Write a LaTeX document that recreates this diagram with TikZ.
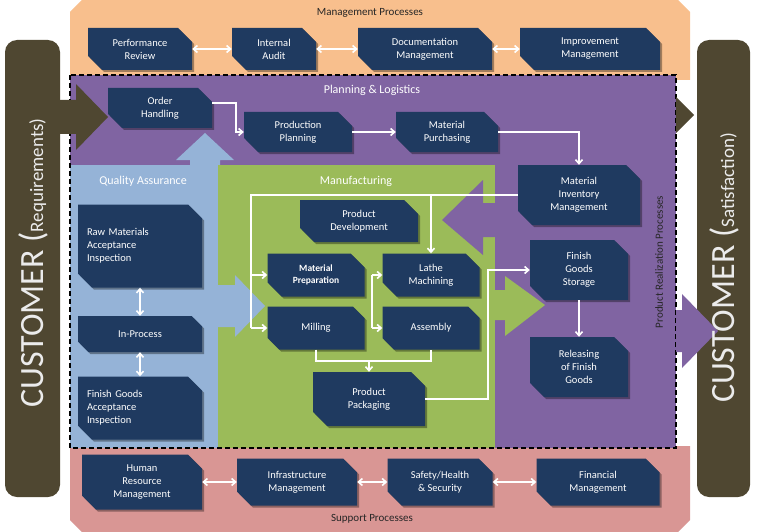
\documentclass[tikz,border=0pt]{standalone}
\usepackage{fontspec}
\setmainfont{Carlito}
\usetikzlibrary{shapes.misc,arrows.meta,shadows}
\definecolor{navy}{HTML}{1F3A60}
\definecolor{mgmt}{HTML}{F8BF8D}
\definecolor{supp}{HTML}{D99694}
\definecolor{purp}{HTML}{8064A2}
\definecolor{qa}{HTML}{95B3D7}
\definecolor{manu}{HTML}{9BBB59}
\definecolor{cust}{HTML}{4F4731}
\begin{document}
\begin{tikzpicture}[x=1pt,y=-1pt,
  box/.style={chamfered rectangle, chamfered rectangle corners={north east,south west},
    chamfered rectangle xsep=7pt, chamfered rectangle ysep=7pt,
    fill=navy, text=white, inner sep=0pt, align=center,
    font=\fontsize{10.5}{13}\selectfont,
    drop shadow={shadow xshift=2pt,shadow yshift=-2pt,fill=black,opacity=0.35}},
  wa/.style={white, line width=1.6pt, -{Straight Barb[length=4pt,width=7pt]}},
  dw/.style={white, line width=1.6pt, {Straight Barb[length=4pt,width=7pt]}-{Straight Barb[length=4pt,width=7pt]}},
  wl/.style={white, line width=1.6pt},
  ttl/.style={font=\fontsize{11}{13}\selectfont},
  cstxt/.style={text=white!92!black, rotate=90, inner sep=0pt}]
\useasboundingbox (0,0) rectangle (768,532);
% panels
\fill[mgmt] (70,12) -- (82,0) -- (678,0) -- (690,12) -- (690,80) -- (70,80) -- cycle;
\fill[supp] (70,446) -- (690,446) -- (690,520) -- (678,532) -- (82,532) -- (70,520) -- cycle;
\fill[purp] (70,75) rectangle (676,448);
\fill[qa] (70,165) rectangle (218,448);
\fill[qa] (190,165) -- (190,160) -- (176,160) -- (205,133) -- (234,160) -- (220,160) -- (220,165) -- cycle;
\fill[manu] (218,165) rectangle (495,448);
\fill[qa] (218,285) -- (235,285) -- (235,275) -- (265,306) -- (235,337) -- (235,327) -- (218,327) -- cycle;
\fill[purp] (495,203) -- (483,203) -- (483,180) -- (442,220) -- (483,255) -- (483,237) -- (495,237) -- cycle;
\fill[manu] (495,290) -- (505,290) -- (505,276) -- (545,305) -- (505,336) -- (505,320) -- (495,320) -- cycle;
\draw[black, line width=1.6pt, dash pattern=on 5pt off 3pt] (70,75) rectangle (676,448);
% customer bars
\fill[cust, rounded corners=12pt] (5,40) rectangle (60,497);
\fill[cust, rounded corners=12pt] (697,40) rectangle (750,497);
\fill[cust] (60,100) -- (76,100) -- (76,84) -- (108,117) -- (76,150) -- (76,134) -- (60,134) -- cycle;
\fill[cust] (676,97) -- (694,115) -- (676,133) -- cycle;
\fill[purp] (676,310) -- (682,310) -- (682,294) -- (718,331) -- (682,368) -- (682,352) -- (676,352) -- cycle;
\node[cstxt] (custL) at (33,263) {\fontsize{34}{36}\selectfont CUSTOMER (\fontsize{19}{20}\selectfont Requirements)};
\node[cstxt] (custR) at (724,268) {\fontsize{34}{36}\selectfont CUSTOMER (\fontsize{19}{20}\selectfont Satisfaction)};
% titles
\node[ttl, text=black!85] (tMgmt) at (370,13) {Management Processes};
\node[ttl, text=black!85] (tSupp) at (372,519) {Support Processes};
\node[ttl, text=white, font=\fontsize{12}{14}\selectfont] (tPL) at (372,90) {Planning \& Logistics};
\node[ttl, text=white, font=\fontsize{12}{14}\selectfont] (tQA) at (143,181) {Quality Assurance};
\node[ttl, text=white, font=\fontsize{12}{14}\selectfont] (tMf) at (356,181) {Manufacturing};
\node[ttl, text=black!85, rotate=90] (tPR) at (659,262) {Product Realization Processes};
% management
\node[box, minimum width=104pt, minimum height=42pt] (pr) at (140,49) {Performance\\Review};
\node[box, minimum width=84pt, minimum height=42pt] (ia) at (274,49) {Internal\\Audit};
\node[box, minimum width=134pt, minimum height=42pt] (dm) at (425,49) {Documentation\\Management};
\node[box, minimum width=140pt, minimum height=42pt] (im) at (590,49) {Improvement\\Management};
\draw[dw] (pr) -- (ia);
\draw[dw] (ia) -- (dm);
\draw[dw] (dm) -- (im);
% planning
\node[box, minimum width=104pt, minimum height=40pt] (oh) at (160,108) {Order\\Handling};
\node[box, minimum width=108pt, minimum height=40pt] (pp) at (298,132) {Production\\Planning};
\node[box, minimum width=102pt, minimum height=40pt] (mp) at (447,132) {Material\\Purchasing};
\node[box, minimum width=122pt, minimum height=60pt] (mim) at (579,195) {Material\\Inventory\\Management};
\draw[wa] (oh.east |- 0,103) -- (236,103) |- (pp.west);
\draw[wa] (pp) -- (mp);
\draw[wa] (mp.east) -| (mim.north);
% quality
\node[box, minimum width=124pt, minimum height=83pt, align=left, text width=106pt] (rm) at (140,246) {Raw Materials\\Acceptance\\Inspection};
\node[box, minimum width=124pt, minimum height=36pt] (ip) at (140,334) {In-Process};
\node[box, minimum width=124pt, minimum height=63pt, align=left, text width=106pt] (fg) at (140,408) {Finish Goods\\Acceptance\\Inspection};
\draw[dw] (rm) -- (ip);
\draw[dw] (ip) -- (fg);
% manufacturing
\node[box, minimum width=118pt, minimum height=42pt] (pd) at (359,221) {Product\\Development};
\node[box, minimum width=97pt, minimum height=43pt, font=\fontsize{9.5}{12}\selectfont\bfseries] (mprep) at (316,275) {Material\\Preparation};
\node[box, minimum width=97pt, minimum height=43pt] (lm) at (431,275) {Lathe\\Machining};
\node[box, minimum width=97pt, minimum height=43pt] (mil) at (316,328) {Milling};
\node[box, minimum width=97pt, minimum height=43pt] (asm) at (431,328) {Assembly};
\node[box, minimum width=112pt, minimum height=54pt] (pkg) at (369,399) {Product\\Packaging};
\node[box, minimum width=98pt, minimum height=60pt] (fgs) at (579,270) {Finish\\Goods\\Storage};
\node[box, minimum width=98pt, minimum height=60pt] (rel) at (579,367) {Releasing\\of Finish\\Goods};
\coordinate (j1) at (251,195);
\coordinate (j2) at (431,195);
\draw[wl] (mim.west |- 0,195) -- (j1) -- (251,328);
\draw[wa] (j1 |- mprep) -- (mprep.west);
\draw[wa] (j1 |- mil) -- (mil.west);
\draw[wa] (j2) -- (lm.north);
\coordinate (k1) at (372,275);
\coordinate (k2) at (372,328);
\draw[wl] (k1) -- (k2);
\draw[wa] (k1) -- (lm.west);
\draw[wa] (k2) -- (asm.west);
\draw[wl] (mil.south) -- (316,361) -- (431,361) -- (asm.south);
\draw[wa] (369,361) -- (pkg.north);
\draw[wa] (pkg.east) -- (488,399) |- (fgs.west);
\draw[wa] (fgs) -- (rel);
% support
\node[box, minimum width=120pt, minimum height=55pt] (hr) at (142,482) {Human\\Resource\\Management};
\node[box, minimum width=120pt, minimum height=47pt] (inf) at (297,482) {Infrastructure\\Management};
\node[box, minimum width=105pt, minimum height=47pt] (shs) at (440,482) {Safety/Health\\\& Security};
\node[box, minimum width=123pt, minimum height=47pt] (fin) at (598,482) {Financial\\Management};
\draw[dw] (hr) -- (inf);
\draw[dw] (inf) -- (shs);
\draw[dw] (shs) -- (fin);
\end{tikzpicture}
\end{document}
